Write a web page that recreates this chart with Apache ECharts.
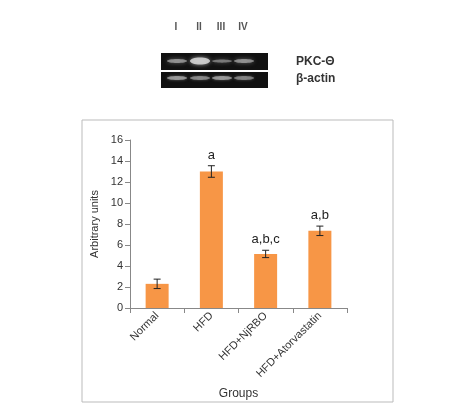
<!DOCTYPE html>
<html><head><meta charset="utf-8">
<script src="https://cdn.jsdelivr.net/npm/echarts@6/dist/echarts.min.js"></script>
<style>html,body{margin:0;padding:0;background:#fff}#c{width:474px;height:409px}</style>
</head><body><div id="c"></div>
<script>
const categories = ['Normal', 'HFD', 'HFD+NjRBO', 'HFD+Atorvastatin'];
const values = [2.3, 13.0, 5.15, 7.35];
const errors = [0.45, 0.55, 0.35, 0.45];
const sigLabels = ['', 'a', 'a,b,c', 'a,b'];
const lanes = ['I', 'II', 'III', 'IV'];
const pkcBands = [0.4, 1.0, 0.25, 0.4];
const actinBands = [0.7, 0.5, 0.7, 0.45];

const chart = echarts.init(document.getElementById('c'));
const graphics = [
  {type:'rect', shape:{x:82,y:120,width:311,height:282}, style:{fill:'none',stroke:'#bbb',lineWidth:1}},
  {type:'rect', shape:{x:161,y:53,width:107,height:17}, style:{fill:'#111'}},
  {type:'rect', shape:{x:161,y:72,width:107,height:16}, style:{fill:'#111'}},
  {type:'text', x:296, y:56, style:{text:'PKC-Θ', fontSize:12, fontWeight:'bold', fontFamily:'Arial', fill:'#333'}},
  {type:'text', x:296, y:73, style:{text:'β-actin', fontSize:12, fontWeight:'bold', fontFamily:'Arial', fill:'#333'}}
];
const laneX = [176, 199, 221, 243];
lanes.forEach((l,i)=>{
  graphics.push({type:'text', x:laneX[i], y:22, style:{text:l, fontSize:10, fontWeight:'bold', fontFamily:'Arial', fill:'#555', align:'center'}});
  const p = pkcBands[i];
  graphics.push({type:'ellipse', shape:{cx:laneX[i]+1, cy:61, rx:10, ry:1+2.5*p}, style:{fill:'rgba(210,210,210,'+(0.3+0.6*p)+')', shadowBlur:4, shadowColor:'#aaa'}});
  const a = actinBands[i];
  graphics.push({type:'ellipse', shape:{cx:laneX[i]+1, cy:78, rx:10, ry:2}, style:{fill:'rgba(200,200,200,'+(0.25+0.5*a)+')', shadowBlur:3, shadowColor:'#999'}});
});

chart.setOption({
  animation:false,
  grid:{left:130, top:140, width:217, height:168},
  graphic: graphics,
  xAxis:{type:'category', data:categories, name:'Groups', nameLocation:'middle', nameGap:80,
    nameTextStyle:{fontSize:12, color:'#333', fontFamily:'Arial'},
    axisLine:{lineStyle:{color:'#888'}}, axisTick:{show:true, lineStyle:{color:'#888'}},
    axisLabel:{rotate:45, fontSize:11, color:'#333', fontFamily:'Arial', margin:6}},
  yAxis:{type:'value', min:0, max:16, interval:2, name:'Arbitrary units', nameLocation:'middle', nameGap:30,
    nameTextStyle:{fontSize:11, color:'#333', fontFamily:'Arial'},
    axisLine:{show:true, lineStyle:{color:'#888'}}, axisTick:{show:true, lineStyle:{color:'#888'}},
    splitLine:{show:false}, axisLabel:{fontSize:11, color:'#333', fontFamily:'Arial', margin:7}},
  series:[
    {type:'bar', data:values, barWidth:23, itemStyle:{color:'#f79646'}},
    {type:'custom', data:values.map((v,i)=>[i,v,errors[i]]), z:10,
     renderItem:(params, api)=>{
       const i=api.value(0), v=api.value(1), e=api.value(2);
       const top=api.coord([i,v+e]), bot=api.coord([i,v-e]);
       const x=top[0], w=3.5;
       return {type:'group', children:[
         {type:'line', shape:{x1:x,y1:top[1],x2:x,y2:bot[1]}, style:{stroke:'#222',lineWidth:1}},
         {type:'line', shape:{x1:x-w,y1:top[1],x2:x+w,y2:top[1]}, style:{stroke:'#222',lineWidth:1}},
         {type:'line', shape:{x1:x-w,y1:bot[1],x2:x+w,y2:bot[1]}, style:{stroke:'#222',lineWidth:1}},
         {type:'text', x:x, y:top[1]-4, style:{text:sigLabels[i], fontSize:13, fontFamily:'Arial', fill:'#222', align:'center', verticalAlign:'bottom'}}
       ]};
     }}
  ]
});
</script></body></html>
